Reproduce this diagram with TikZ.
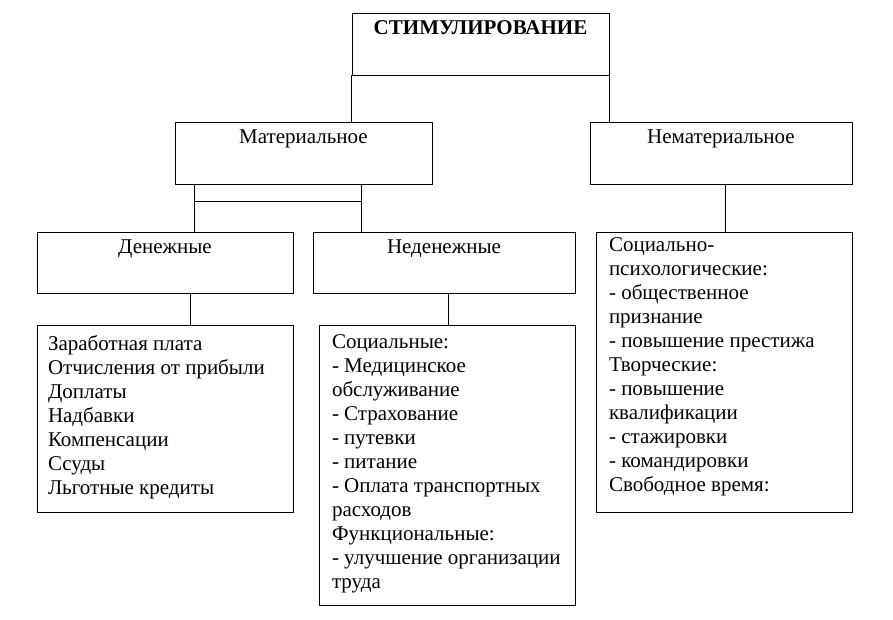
\documentclass[tikz,border=0pt]{standalone}
\usepackage{fontspec}
\setmainfont{Liberation Serif}
\usetikzlibrary{calc}
\tikzset{
  boxnode/.style={draw=black,line width=0.8pt,inner sep=0pt},
  listtext/.style={anchor=north west,align=left,inner sep=0pt,font=\fontsize{21}{24}\selectfont},
  headtext/.style={anchor=north,inner sep=0pt,font=\fontsize{21}{24}\selectfont}
}
\def\boxat#1#2#3#4#5{\node[boxnode,minimum width=#4pt,minimum height=#5pt] (#1) at (#2,#3) {};}
\begin{document}
\begin{tikzpicture}[x=1pt,y=-1pt,line width=0.8pt]
\useasboundingbox (0,0) rectangle (893,619);
% boxes
\boxat{stim}{480.5}{44}{257}{62}
\boxat{mat}{303.5}{153}{257}{62}
\boxat{nemat}{721}{153}{262}{62}
\boxat{den}{165}{262.5}{256}{61}
\boxat{neden}{444}{262.5}{262}{61}
\boxat{denlist}{165}{418.5}{256}{187}
\boxat{nedenlist}{447}{465}{256}{280}
\boxat{nematlist}{724}{372}{256}{280}
% headings
\node[headtext,font=\fontsize{21}{24}\selectfont\bfseries] at ($(stim.north)+(0,8)$) {СТИМУЛИРОВАНИЕ};
\node[headtext] at ($(mat.north)+(0,8)$) {Материальное};
\node[headtext] at ($(nemat.north)+(0,8)$) {Нематериальное};
\node[headtext] at ($(den.north)+(0,8)$) {Денежные};
\node[headtext] at ($(neden.north)+(0,8)$) {Неденежные};
% lists
\node[listtext] at ($(denlist.north west)+(11,10)$) {Заработная плата\\Отчисления от прибыли\\Доплаты\\Надбавки\\Компенсации\\Ссуды\\Льготные кредиты};
\node[listtext] at ($(nedenlist.north west)+(13,10)$) {Социальные:\\- Медицинское\\обслуживание\\- Страхование\\- путевки\\- питание\\- Оплата транспортных\\расходов\\Функциональные:\\- улучшение организации\\труда};
\node[listtext] at ($(nematlist.north west)+(13,6)$) {Социально-\\психологические:\\- общественное\\признание\\- повышение престижа\\Творческие:\\- повышение\\квалификации\\- стажировки\\- командировки\\Свободное время:};
% connectors
\draw (stim.south west) -- (stim.south west |- mat.north);
\draw (stim.south east) -- (stim.south east |- nemat.north);
\coordinate (matl) at ($(mat.south west)+(20,0)$);
\coordinate (matr) at ($(mat.south west)+(187,0)$);
\draw (matl) -- (matl |- den.north);
\draw (matr) -- (matr |- neden.north);
\draw ($(matl)+(0,17)$) -- ($(matr)+(0,17)$);
\draw (nemat.south) ++(4,0) coordinate (nm) (nm) -- (nm |- nematlist.north);
\draw (den.south) ++(25,0) coordinate (dn) (dn) -- (dn |- denlist.north);
\draw (neden.south) ++(4,0) coordinate (nd) (nd) -- (nd |- nedenlist.north);
\end{tikzpicture}
\end{document}
